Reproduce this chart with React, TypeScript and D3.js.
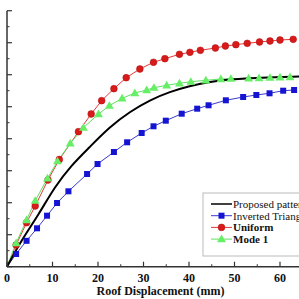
import React from "react";
import * as d3 from "d3";

// roof displacement (mm) vs base shear, one array per load pattern
const proposedX = [0, 3.2, 6.9, 10.5, 14.2, 17.9, 22.6, 27.0, 31.4, 35.8, 40.2, 44.2, 49.0, 55.6, 64.2];
const proposedY = [0, 834, 1616, 2500, 3178, 3700, 4375, 4844, 5209, 5469, 5647, 5772, 5850, 5913, 5944];

const invTriX = [0, 2.0, 4.3, 6.6, 8.8, 11.0, 13.5, 17.6, 19.9, 23.5, 26.4, 29.6, 32.2, 34.9, 38.4, 41.8, 44.3, 48.1, 51.9, 54.8, 57.7, 60.7, 63.1];
const invTriY = [0, 397, 809, 1200, 1594, 1991, 2356, 2897, 3209, 3584, 3888, 4178, 4388, 4563, 4781, 4938, 5044, 5200, 5303, 5366, 5419, 5500, 5522];

const uniformX = [0, 2.0, 4.3, 6.2, 9.0, 11.5, 15.7, 18.5, 20.8, 23.5, 26.2, 29.2, 32.2, 34.7, 37.9, 40.2, 42.5, 45.8, 48.0, 50.3, 52.8, 55.5, 57.8, 60.0, 62.9];
const uniformY = [0, 678, 1375, 1897, 2709, 3350, 4219, 4772, 5188, 5563, 5906, 6178, 6388, 6500, 6638, 6700, 6763, 6834, 6897, 6938, 6981, 7022, 7053, 7084, 7106];

const mode1X = [0, 2.0, 4.3, 6.2, 8.9, 11.1, 13.9, 16.8, 20.1, 22.5, 25.3, 28.1, 30.7, 32.3, 35.1, 37.9, 40.4, 43.7, 47.0, 49.2, 53.1, 55.4, 57.8, 60.0, 62.2];
const mode1Y = [0, 741, 1459, 2063, 2763, 3297, 3856, 4344, 4772, 5031, 5263, 5428, 5522, 5594, 5669, 5731, 5781, 5825, 5866, 5875, 5888, 5897, 5906, 5919, 5928];

const xMajorTicks = [0, 10, 20, 30, 40, 50, 60];
const xMinorTicks = [5, 15, 25, 35, 45, 55, 65];
const yMajorTicks = [0, 1000, 2000, 3000, 4000, 5000, 6000, 7000, 8000];
const yMinorTicks = [500, 1500, 2500, 3500, 4500, 5500, 6500, 7500];

const legendLabels = ["Proposed pattern", "Inverted Triangular", "Uniform", "Mode 1"];

const W = 299;
const H = 299;

export default function App() {
  const x = d3.scaleLinear().domain([0, 70]).range([7, 7 + 70 * 4.55]);
  const y = d3.scaleLinear().domain([0, 8000]).range([266.7, 10.7]);

  const zip = (xs: number[], ys: number[]) => xs.map((v, i) => [v, ys[i]] as [number, number]);

  const smooth = d3
    .line<[number, number]>()
    .x((d) => x(d[0]))
    .y((d) => y(d[1]))
    .curve(d3.curveBasis);
  const straight = d3
    .line<[number, number]>()
    .x((d) => x(d[0]))
    .y((d) => y(d[1]));

  const series = [
    { key: "inv", pts: zip(invTriX, invTriY), line: "#3a3ad0", fill: "#1414d2", shape: "square" },
    { key: "uni", pts: zip(uniformX, uniformY), line: "#e23a3a", fill: "#d81a1a", shape: "circle" },
    { key: "mode", pts: zip(mode1X, mode1Y), line: "#5fe05f", fill: "#66ee66", shape: "triangle" },
  ];

  const marker = (shape: string, cx: number, cy: number, fill: string, k: string) => {
    if (shape === "square")
      return <rect key={k} x={cx - 3} y={cy - 3} width={6} height={6} fill={fill} />;
    if (shape === "circle")
      return <circle key={k} cx={cx} cy={cy} r={3.4} fill={fill} stroke="#b01010" strokeWidth={0.5} />;
    const tri = d3.symbol(d3.symbolTriangle, 34)();
    return <path key={k} d={tri || ""} transform={`translate(${cx},${cy + 0.6})`} fill={fill} />;
  };

  const legendTop = 193;
  const rowH = 11.7;
  const legendStyles = [
    { line: "#000", fill: "", shape: "", bold: false },
    { line: "#3a3ad0", fill: "#1414d2", shape: "square", bold: false },
    { line: "#e23a3a", fill: "#d81a1a", shape: "circle", bold: true },
    { line: "#5fe05f", fill: "#66ee66", shape: "triangle", bold: true },
  ];

  return (
    <svg
      width={W}
      height={H}
      style={{ position: "absolute", left: 0, top: 0, background: "#fff" }}
      fontFamily="'Liberation Serif', 'Times New Roman', serif"
    >
      {/* curves */}
      {series.map((s) => (
        <path key={s.key} d={straight(s.pts) || ""} fill="none" stroke={s.line} strokeWidth={1} />
      ))}
      <path d={smooth(zip(proposedX, proposedY)) || ""} fill="none" stroke="#000" strokeWidth={2} />
      {series.map((s) =>
        s.pts.slice(1).map((p, i) => marker(s.shape, x(p[0]), y(p[1]), s.fill, `${s.key}-${i}`))
      )}

      {/* x axis */}
      <line x1={x(0)} x2={W} y1={y(0)} y2={y(0)} stroke="#333" strokeWidth={1.5} />
      {xMajorTicks.map((t) => (
        <g key={`xt${t}`}>
          <line x1={x(t)} x2={x(t)} y1={y(0)} y2={y(0) - 5} stroke="#333" strokeWidth={1.2} />
          <text x={x(t)} y={282} textAnchor="middle" fontSize={12} fontWeight="bold" fill="#111">
            {t}
          </text>
        </g>
      ))}
      {xMinorTicks.map((t) => (
        <line key={`xm${t}`} x1={x(t)} x2={x(t)} y1={y(0)} y2={y(0) - 2.5} stroke="#333" strokeWidth={1} />
      ))}
      <text x={160.5} y={295} textAnchor="middle" fontSize={12} fontWeight="bold" fill="#111">
        Roof Displacement (mm)
      </text>

      {/* y axis */}
      <line x1={x(0)} x2={x(0)} y1={y(0)} y2={y(8000)} stroke="#333" strokeWidth={1.5} />
      {yMajorTicks.map((t) => (
        <line key={`yt${t}`} x1={x(0)} x2={x(0) + 5} y1={y(t)} y2={y(t)} stroke="#333" strokeWidth={1.2} />
      ))}
      {yMinorTicks.map((t) => (
        <line key={`ym${t}`} x1={x(0)} x2={x(0) + 2.5} y1={y(t)} y2={y(t)} stroke="#333" strokeWidth={1} />
      ))}

      {/* legend */}
      <rect x={203} y={legendTop} width={120} height={63} fill="#fff" stroke="#aaa" strokeWidth={0.8} />
      {legendLabels.map((label, i) => {
        const cy = legendTop + 11 + i * rowH;
        const st = legendStyles[i];
        return (
          <g key={label}>
            <line x1={211} x2={232} y1={cy} y2={cy} stroke={st.line} strokeWidth={i === 0 ? 1.5 : 1} />
            {st.shape && marker(st.shape, 221.5, cy, st.fill, `lg${i}`)}
            <text x={233} y={cy + 3.8} fontSize={11} fontWeight={st.bold ? "bold" : "normal"} fill="#111">
              {label}
            </text>
          </g>
        );
      })}
    </svg>
  );
}
